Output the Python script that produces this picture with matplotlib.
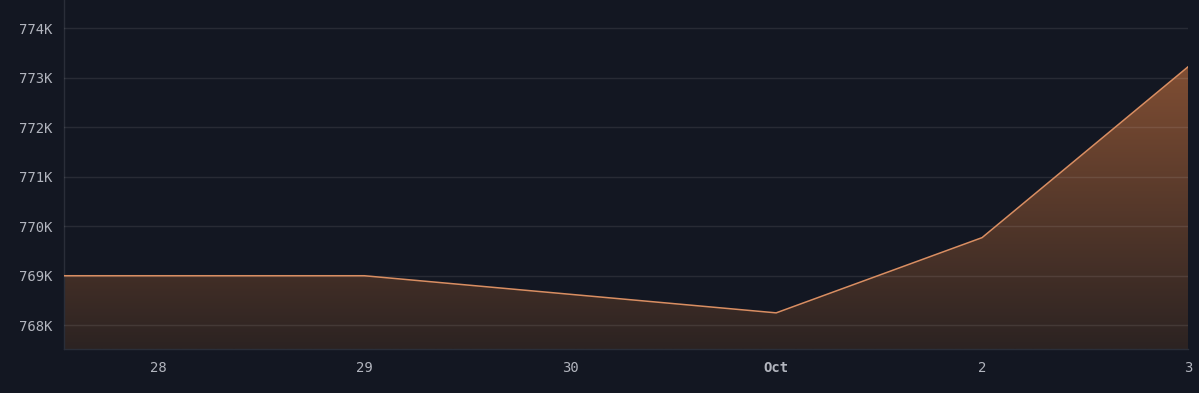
import matplotlib
matplotlib.use("Agg")
import matplotlib.pyplot as plt
import matplotlib.dates as mdates
import numpy as np
import pandas as pd
from matplotlib.patches import Polygon

# Data
timestamps = ["2023-09-27 13:00", "2023-09-29 00:00", "2023-10-01 00:00",
              "2023-10-02 00:00", "2023-10-03 00:00"]
values_k = [769.0, 769.0, 768.25, 769.77, 773.22]
y_ticks = [768, 769, 770, 771, 772, 773, 774]
x_tick_dates = ["2023-09-28", "2023-09-29", "2023-09-30", "2023-10-01", "2023-10-02", "2023-10-03"]
x_tick_labels = ["28", "29", "30", "Oct", "2", "3"]

BG = "#131722"
TEXT = "#b2b5be"
LINE = "#d98e62"

x = mdates.date2num(pd.to_datetime(timestamps))
y = np.array(values_k)

fig = plt.figure(figsize=(11.99, 3.93), dpi=100, facecolor=BG)
ax = fig.add_axes([64/1199, 44/393, (1188-64)/1199, 349/393])
ax.set_facecolor(BG)

ymin, ymax = 767.52, 774.57
ax.set_xlim(x[0], x[-1])
ax.set_ylim(ymin, ymax)

# gradient fill
top_col = np.array([0x80, 0x4e, 0x33]) / 255
bot_col = np.array([0x2c, 0x23, 0x22]) / 255
n = 256
t = np.linspace(0, 1, n)[:, None]
grad = (bot_col[None, :] * (1 - t) + top_col[None, :] * t)
grad_img = np.repeat(grad[:, None, :], 2, axis=1)
im = ax.imshow(grad_img, extent=[x[0], x[-1], ymin, y.max()], origin="lower",
               aspect="auto", zorder=1, interpolation="bilinear")
poly_pts = np.vstack([np.column_stack([x, y]), [[x[-1], ymin], [x[0], ymin]]])
clip = Polygon(poly_pts, closed=True, transform=ax.transData, facecolor="none", edgecolor="none")
ax.add_patch(clip)
im.set_clip_path(clip)

ax.plot(x, y, color=LINE, lw=1.1, zorder=3, solid_joinstyle="miter")

ax.set_yticks(y_ticks)
ax.set_yticklabels([f"{v}K" for v in y_ticks])
ax.set_xticks(mdates.date2num(pd.to_datetime(x_tick_dates)))
ax.set_xticklabels(x_tick_labels)
for lab in ax.get_xticklabels():
    if lab.get_text() == "Oct":
        lab.set_fontweight("bold")

ax.grid(axis="y", color="white", alpha=0.09, lw=1, zorder=2)
ax.grid(axis="x", visible=False)
ax.set_axisbelow(False)
for lbl in ax.get_yticklabels() + ax.get_xticklabels():
    lbl.set_fontfamily("DejaVu Sans Mono")
ax.tick_params(axis="both", length=0, colors=TEXT, labelsize=10)
ax.tick_params(axis="y", pad=8)
ax.tick_params(axis="x", pad=8.5)
for s in ["top", "right"]:
    ax.spines[s].set_visible(False)
for s in ["left", "bottom"]:
    ax.spines[s].set_color("#2a2e39")
    ax.spines[s].set_linewidth(1)

fig.savefig("out.png", dpi=100, facecolor=BG)
